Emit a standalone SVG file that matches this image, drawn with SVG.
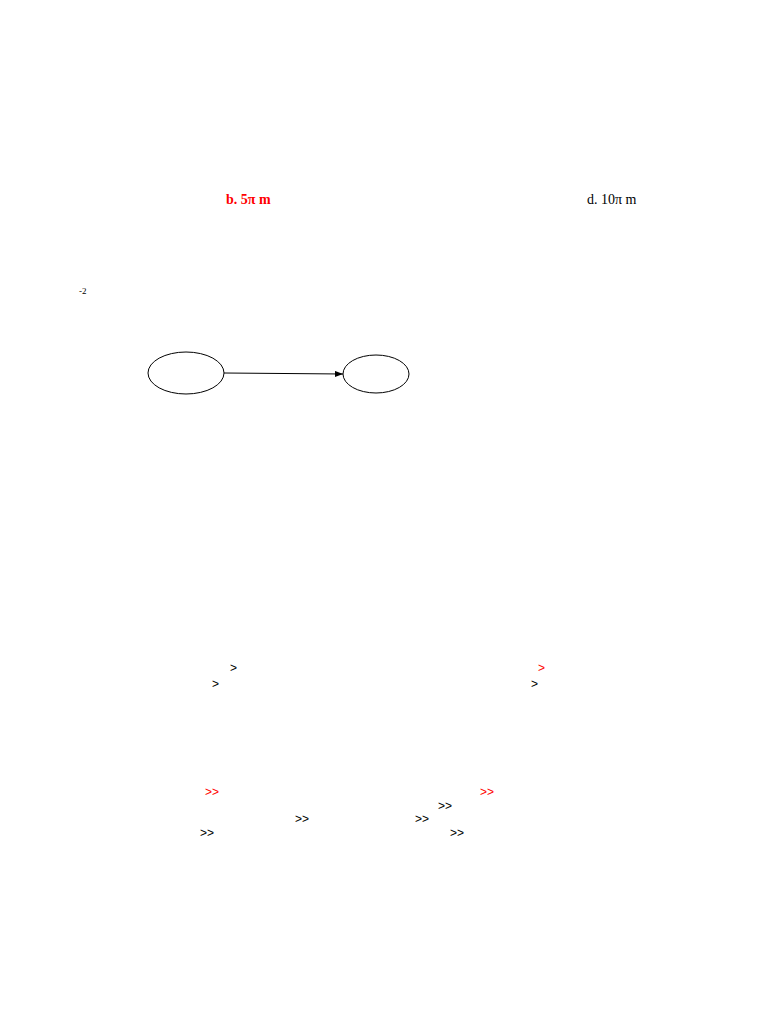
<svg xmlns="http://www.w3.org/2000/svg" width="768" height="1024" viewBox="0 0 768 1024">
<style>
.s{font-family:"Liberation Serif",serif;font-size:14px;fill:#000}
.g{font-family:"Liberation Sans",sans-serif;font-size:12px;fill:#000}
.r{fill:#ff0000}
.n{fill:#fff;stroke:#000;stroke-width:1}
</style>
<defs>
<marker id="ah" markerWidth="8" markerHeight="6" refX="8" refY="3" orient="auto" markerUnits="userSpaceOnUse">
<path d="M0,0 L8,3 L0,6 Z" fill="#000"/>
</marker>
</defs>
<rect width="768" height="1024" fill="#fff"/>
<text class="s r" x="226" y="204" font-weight="bold">b. 5π m</text>
<text class="s" x="587" y="204">d. 10π m</text>
<text class="s" x="79" y="294" style="font-size:9px">-2</text>
<g id="node1"><ellipse class="n" cx="186" cy="373" rx="38" ry="21"/></g>
<g id="node2"><ellipse class="n" cx="376" cy="374" rx="33" ry="19"/></g>
<g id="connectors"><line x1="224" y1="373" x2="343" y2="374" stroke="#000" stroke-width="1" marker-end="url(#ah)"/></g>
<text class="g" x="230" y="672">&gt;</text>
<text class="g" x="212" y="688">&gt;</text>
<text class="g r" x="538" y="672">&gt;</text>
<text class="g" x="531" y="688">&gt;</text>
<text class="g r" x="205" y="796">&gt;&gt;</text>
<text class="g r" x="480" y="796">&gt;&gt;</text>
<text class="g" x="438" y="810">&gt;&gt;</text>
<text class="g" x="295" y="823">&gt;&gt;</text>
<text class="g" x="415" y="823">&gt;&gt;</text>
<text class="g" x="200" y="837">&gt;&gt;</text>
<text class="g" x="450" y="837">&gt;&gt;</text>
</svg>
